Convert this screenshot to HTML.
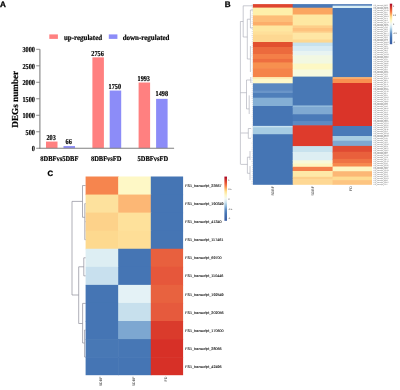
<!DOCTYPE html>
<html><head><meta charset="utf-8"><title>DEG figure</title>
<style>
html,body{margin:0;padding:0;background:#fff;width:400px;height:390px;overflow:hidden;}
svg{display:block;filter:blur(0.5px);text-rendering:geometricPrecision;}
</style></head>
<body>
<svg width="400" height="390" viewBox="0 0 400 390">
<rect x="0" y="0" width="400" height="390" fill="#fff"/>
<text transform="translate(-0.10,6.70)" font-family='"Liberation Sans", sans-serif' font-weight="bold" font-size="8.1" fill="#000" stroke="#000" stroke-width="0.3">A</text>
<rect x="49.3" y="34.4" width="8.6" height="4.5" fill="#FF8080"/>
<text transform="translate(63.90,39.60) scale(0.93,1)" font-family='"Liberation Serif", serif' font-weight="bold" font-size="7.5" fill="#000" stroke="#000" stroke-width="0.18">up-regulated</text>
<rect x="108.8" y="34.4" width="8.6" height="4.5" fill="#8C8CF8"/>
<text transform="translate(122.70,39.60) scale(0.93,1)" font-family='"Liberation Serif", serif' font-weight="bold" font-size="7.5" fill="#000" stroke="#000" stroke-width="0.18">down-regulated</text>
<line x1="39.9" y1="49.31" x2="39.9" y2="148.75" stroke="#808080" stroke-width="1.1"/>
<line x1="36.2" y1="148.25" x2="39.9" y2="148.25" stroke="#808080" stroke-width="0.9"/>
<text transform="translate(34.90,151.10) scale(0.82,1)" text-anchor="end" font-family='"Liberation Serif", serif' font-weight="bold" font-size="7.6" fill="#000" stroke="#000" stroke-width="0.18">0</text>
<line x1="36.2" y1="131.76" x2="39.9" y2="131.76" stroke="#808080" stroke-width="0.9"/>
<text transform="translate(34.90,134.61) scale(0.82,1)" text-anchor="end" font-family='"Liberation Serif", serif' font-weight="bold" font-size="7.6" fill="#000" stroke="#000" stroke-width="0.18">500</text>
<line x1="36.2" y1="115.27" x2="39.9" y2="115.27" stroke="#808080" stroke-width="0.9"/>
<text transform="translate(34.90,118.12) scale(0.82,1)" text-anchor="end" font-family='"Liberation Serif", serif' font-weight="bold" font-size="7.6" fill="#000" stroke="#000" stroke-width="0.18">1000</text>
<line x1="36.2" y1="98.78" x2="39.9" y2="98.78" stroke="#808080" stroke-width="0.9"/>
<text transform="translate(34.90,101.63) scale(0.82,1)" text-anchor="end" font-family='"Liberation Serif", serif' font-weight="bold" font-size="7.6" fill="#000" stroke="#000" stroke-width="0.18">1500</text>
<line x1="36.2" y1="82.29" x2="39.9" y2="82.29" stroke="#808080" stroke-width="0.9"/>
<text transform="translate(34.90,85.14) scale(0.82,1)" text-anchor="end" font-family='"Liberation Serif", serif' font-weight="bold" font-size="7.6" fill="#000" stroke="#000" stroke-width="0.18">2000</text>
<line x1="36.2" y1="65.80" x2="39.9" y2="65.80" stroke="#808080" stroke-width="0.9"/>
<text transform="translate(34.90,68.65) scale(0.82,1)" text-anchor="end" font-family='"Liberation Serif", serif' font-weight="bold" font-size="7.6" fill="#000" stroke="#000" stroke-width="0.18">2500</text>
<line x1="36.2" y1="49.31" x2="39.9" y2="49.31" stroke="#808080" stroke-width="0.9"/>
<text transform="translate(34.90,52.16) scale(0.82,1)" text-anchor="end" font-family='"Liberation Serif", serif' font-weight="bold" font-size="7.6" fill="#000" stroke="#000" stroke-width="0.18">3000</text>
<text transform="translate(17.90,99.30) rotate(-90)" text-anchor="middle" font-family='"Liberation Serif", serif' font-weight="bold" font-size="9.2" fill="#000" stroke="#000" stroke-width="0.18">DEGs number</text>
<rect x="46.0" y="141.56" width="11.5" height="6.69" fill="#FF8080"/>
<text transform="translate(51.15,139.96) scale(0.82,1)" text-anchor="middle" font-family='"Liberation Serif", serif' font-weight="bold" font-size="7.6" fill="#000" stroke="#000" stroke-width="0.18">203</text>
<rect x="63.5" y="146.07" width="11.5" height="2.18" fill="#8C8CF8"/>
<text transform="translate(68.65,143.67) scale(0.82,1)" text-anchor="middle" font-family='"Liberation Serif", serif' font-weight="bold" font-size="7.6" fill="#000" stroke="#000" stroke-width="0.18">66</text>
<rect x="92.4" y="57.36" width="11.5" height="90.89" fill="#FF8080"/>
<text transform="translate(97.55,55.56) scale(0.82,1)" text-anchor="middle" font-family='"Liberation Serif", serif' font-weight="bold" font-size="7.6" fill="#000" stroke="#000" stroke-width="0.18">2756</text>
<rect x="109.7" y="90.54" width="11.5" height="57.71" fill="#8C8CF8"/>
<text transform="translate(114.85,89.24) scale(0.82,1)" text-anchor="middle" font-family='"Liberation Serif", serif' font-weight="bold" font-size="7.6" fill="#000" stroke="#000" stroke-width="0.18">1750</text>
<rect x="138.6" y="82.52" width="11.5" height="65.73" fill="#FF8080"/>
<text transform="translate(143.75,81.22) scale(0.82,1)" text-anchor="middle" font-family='"Liberation Serif", serif' font-weight="bold" font-size="7.6" fill="#000" stroke="#000" stroke-width="0.18">1993</text>
<rect x="156.1" y="98.85" width="11.5" height="49.40" fill="#8C8CF8"/>
<text transform="translate(161.85,96.35) scale(0.82,1)" text-anchor="middle" font-family='"Liberation Serif", serif' font-weight="bold" font-size="7.6" fill="#000" stroke="#000" stroke-width="0.18">1498</text>
<line x1="39.35" y1="148.25" x2="174.1" y2="148.25" stroke="#808080" stroke-width="1.1"/>
<text transform="translate(59.30,160.50) scale(0.9,1)" text-anchor="middle" font-family='"Liberation Serif", serif' font-weight="bold" font-size="7.2" fill="#000" stroke="#000" stroke-width="0.18">8DBFvs5DBF</text>
<text transform="translate(106.20,160.50) scale(0.9,1)" text-anchor="middle" font-family='"Liberation Serif", serif' font-weight="bold" font-size="7.2" fill="#000" stroke="#000" stroke-width="0.18">8DBFvsFD</text>
<text transform="translate(152.80,160.50) scale(0.9,1)" text-anchor="middle" font-family='"Liberation Serif", serif' font-weight="bold" font-size="7.2" fill="#000" stroke="#000" stroke-width="0.18">5DBFvsFD</text>
<text transform="translate(224.80,6.70)" font-family='"Liberation Sans", sans-serif' font-weight="bold" font-size="8.1" fill="#000" stroke="#000" stroke-width="0.3">B</text>
<rect x="252.9" y="4.1" width="40.40" height="4.10" fill="#DF452F"/>
<rect x="252.9" y="7.6" width="40.40" height="8.40" fill="#FEF0AA"/>
<rect x="252.9" y="15.4" width="40.40" height="7.20" fill="#FDBE78"/>
<rect x="252.9" y="22.0" width="40.40" height="4.10" fill="#FCAE6A"/>
<rect x="252.9" y="25.5" width="40.40" height="6.30" fill="#FEE7A0"/>
<rect x="252.9" y="31.2" width="40.40" height="4.10" fill="#FEE09A"/>
<rect x="252.9" y="34.7" width="40.40" height="7.90" fill="#FDD892"/>
<rect x="252.9" y="42.0" width="40.40" height="5.60" fill="#E2502F"/>
<rect x="252.9" y="47.0" width="40.40" height="7.60" fill="#EC6A3D"/>
<rect x="252.9" y="54.0" width="40.40" height="5.50" fill="#F47F48"/>
<rect x="252.9" y="58.9" width="40.40" height="4.10" fill="#EE6E40"/>
<rect x="252.9" y="62.4" width="40.40" height="6.50" fill="#F7904F"/>
<rect x="252.9" y="68.3" width="40.40" height="9.40" fill="#F5844A"/>
<rect x="252.9" y="77.1" width="40.40" height="2.40" fill="#FEEBB0"/>
<rect x="252.9" y="78.9" width="40.40" height="5.00" fill="#FEF8C8"/>
<rect x="252.9" y="83.3" width="40.40" height="7.90" fill="#5A88C0"/>
<rect x="252.9" y="90.6" width="40.40" height="3.00" fill="#6A95C8"/>
<rect x="252.9" y="93.0" width="40.40" height="5.30" fill="#4F7FBA"/>
<rect x="252.9" y="97.7" width="40.40" height="8.90" fill="#84AFD5"/>
<rect x="252.9" y="106.0" width="40.40" height="20.50" fill="#4575B4"/>
<rect x="252.9" y="125.9" width="40.40" height="2.00" fill="#C8E2F0"/>
<rect x="252.9" y="127.3" width="40.40" height="7.50" fill="#A6CCE3"/>
<rect x="252.9" y="134.2" width="40.40" height="50.60" fill="#4575B4"/>
<rect x="292.7" y="4.1" width="40.50" height="4.20" fill="#4A78B6"/>
<rect x="292.7" y="7.7" width="40.50" height="7.40" fill="#FBA660"/>
<rect x="292.7" y="14.5" width="40.50" height="11.50" fill="#FEE8A2"/>
<rect x="292.7" y="25.4" width="40.50" height="3.20" fill="#FDCF8A"/>
<rect x="292.7" y="28.0" width="40.50" height="4.10" fill="#FDC27E"/>
<rect x="292.7" y="31.5" width="40.50" height="2.10" fill="#FDD592"/>
<rect x="292.7" y="33.0" width="40.50" height="7.10" fill="#FEE6A4"/>
<rect x="292.7" y="39.5" width="40.50" height="3.70" fill="#FDD892"/>
<rect x="292.7" y="42.6" width="40.50" height="4.00" fill="#C6E1EE"/>
<rect x="292.7" y="46.0" width="40.50" height="5.60" fill="#D8EBF3"/>
<rect x="292.7" y="51.0" width="40.50" height="4.90" fill="#E8F4F2"/>
<rect x="292.7" y="55.3" width="40.50" height="8.90" fill="#F2F8E2"/>
<rect x="292.7" y="63.6" width="40.50" height="6.50" fill="#FDF8C4"/>
<rect x="292.7" y="69.5" width="40.50" height="7.70" fill="#F6F9DF"/>
<rect x="292.7" y="76.6" width="40.50" height="29.40" fill="#4878B5"/>
<rect x="292.7" y="105.4" width="40.50" height="2.20" fill="#92BADB"/>
<rect x="292.7" y="107.0" width="40.50" height="7.80" fill="#7FA9D2"/>
<rect x="292.7" y="114.2" width="40.50" height="7.70" fill="#4A7AB8"/>
<rect x="292.7" y="121.3" width="40.50" height="4.60" fill="#5D8AC2"/>
<rect x="292.7" y="125.3" width="40.50" height="21.40" fill="#DE3B2C"/>
<rect x="292.7" y="146.1" width="40.50" height="6.50" fill="#C8E2EE"/>
<rect x="292.7" y="152.0" width="40.50" height="8.90" fill="#DDEEF3"/>
<rect x="292.7" y="160.3" width="40.50" height="3.80" fill="#F8F8D8"/>
<rect x="292.7" y="163.5" width="40.50" height="3.90" fill="#FEF5C0"/>
<rect x="292.7" y="166.8" width="40.50" height="4.80" fill="#F47F4A"/>
<rect x="292.7" y="171.0" width="40.50" height="6.40" fill="#FEE9A8"/>
<rect x="292.7" y="176.8" width="40.50" height="3.00" fill="#FDD08C"/>
<rect x="292.7" y="179.2" width="40.50" height="5.60" fill="#FED894"/>
<rect x="332.6" y="4.1" width="39.40" height="2.20" fill="#5580BB"/>
<rect x="332.6" y="5.7" width="39.40" height="2.90" fill="#D8EEF5"/>
<rect x="332.6" y="8.0" width="39.40" height="69.70" fill="#4575B4"/>
<rect x="332.6" y="77.1" width="39.40" height="2.40" fill="#F8B070"/>
<rect x="332.6" y="78.9" width="39.40" height="4.70" fill="#F99050"/>
<rect x="332.6" y="83.0" width="39.40" height="43.60" fill="#DA3429"/>
<rect x="332.6" y="126.0" width="39.40" height="10.60" fill="#4A7AB8"/>
<rect x="332.6" y="136.0" width="39.40" height="5.30" fill="#A8CDE3"/>
<rect x="332.6" y="140.7" width="39.40" height="5.80" fill="#7EA8D1"/>
<rect x="332.6" y="145.9" width="39.40" height="6.50" fill="#E04A32"/>
<rect x="332.6" y="151.8" width="39.40" height="7.70" fill="#E9603C"/>
<rect x="332.6" y="158.9" width="39.40" height="4.70" fill="#EF7344"/>
<rect x="332.6" y="163.0" width="39.40" height="4.10" fill="#F7894E"/>
<rect x="332.6" y="166.5" width="39.40" height="5.30" fill="#FEF6C2"/>
<rect x="332.6" y="171.2" width="39.40" height="6.00" fill="#FCB775"/>
<rect x="332.6" y="176.6" width="39.40" height="4.10" fill="#FEDB92"/>
<rect x="332.6" y="180.1" width="39.40" height="4.70" fill="#FDC581"/>
<line x1="243.2" y1="5.8" x2="252.9" y2="5.8" stroke="#a4a6b2" stroke-width="0.6"/>
<line x1="243.2" y1="5.8" x2="243.2" y2="37.0" stroke="#a4a6b2" stroke-width="0.6"/>
<line x1="243.2" y1="37.0" x2="247.3" y2="37.0" stroke="#a4a6b2" stroke-width="0.6"/>
<line x1="240.4" y1="21.5" x2="243.2" y2="21.5" stroke="#a4a6b2" stroke-width="0.6"/>
<line x1="247.3" y1="19.2" x2="247.3" y2="59.0" stroke="#a4a6b2" stroke-width="0.6"/>
<line x1="247.3" y1="19.2" x2="250.4" y2="19.2" stroke="#a4a6b2" stroke-width="0.6"/>
<line x1="250.4" y1="10.0" x2="250.4" y2="28.0" stroke="#a4a6b2" stroke-width="0.6"/>
<line x1="250.4" y1="46.0" x2="250.4" y2="72.0" stroke="#a4a6b2" stroke-width="0.6"/>
<line x1="247.3" y1="59.0" x2="250.4" y2="59.0" stroke="#a4a6b2" stroke-width="0.6"/>
<line x1="250.4" y1="10.0" x2="252.9" y2="10.0" stroke="#a4a6b2" stroke-width="0.6"/>
<line x1="250.4" y1="28.0" x2="252.9" y2="28.0" stroke="#a4a6b2" stroke-width="0.6"/>
<line x1="240.4" y1="21.5" x2="240.4" y2="164.4" stroke="#a4a6b2" stroke-width="0.6"/>
<line x1="240.4" y1="92.7" x2="246.5" y2="92.7" stroke="#a4a6b2" stroke-width="0.6"/>
<line x1="246.5" y1="80.0" x2="246.5" y2="108.9" stroke="#a4a6b2" stroke-width="0.6"/>
<line x1="249.2" y1="95.4" x2="249.2" y2="114.0" stroke="#a4a6b2" stroke-width="0.6"/>
<line x1="246.5" y1="108.9" x2="249.2" y2="108.9" stroke="#a4a6b2" stroke-width="0.6"/>
<line x1="240.8" y1="133.0" x2="248.3" y2="133.0" stroke="#a4a6b2" stroke-width="0.6"/>
<line x1="248.3" y1="128.5" x2="248.3" y2="138.3" stroke="#a4a6b2" stroke-width="0.6"/>
<line x1="240.8" y1="164.4" x2="247.4" y2="164.4" stroke="#a4a6b2" stroke-width="0.6"/>
<line x1="247.4" y1="157.2" x2="247.4" y2="173.3" stroke="#a4a6b2" stroke-width="0.6"/>
<line x1="250.0" y1="151.0" x2="250.0" y2="160.0" stroke="#a4a6b2" stroke-width="0.6"/>
<line x1="247.4" y1="157.2" x2="250.0" y2="157.2" stroke="#a4a6b2" stroke-width="0.6"/>
<line x1="250.0" y1="166.0" x2="250.0" y2="180.0" stroke="#a4a6b2" stroke-width="0.6"/>
<line x1="247.4" y1="173.3" x2="250.0" y2="173.3" stroke="#a4a6b2" stroke-width="0.6"/>
<line x1="246.5" y1="80.0" x2="250.8" y2="80.0" stroke="#a4a6b2" stroke-width="0.6"/>
<line x1="250.8" y1="77.0" x2="250.8" y2="83.0" stroke="#a4a6b2" stroke-width="0.6"/>
<line x1="248.3" y1="128.5" x2="251.0" y2="128.5" stroke="#a4a6b2" stroke-width="0.6"/>
<line x1="248.3" y1="138.3" x2="251.0" y2="138.3" stroke="#a4a6b2" stroke-width="0.6"/>
<line x1="251.49037170167352" y1="5.1" x2="252.9" y2="5.1" stroke="#b0b0bb" stroke-width="0.4"/>
<line x1="251.73538338023678" y1="7.13" x2="252.9" y2="7.13" stroke="#b0b0bb" stroke-width="0.4"/>
<line x1="251.59596413323848" y1="9.16" x2="252.9" y2="9.16" stroke="#b0b0bb" stroke-width="0.4"/>
<line x1="251.78313603087696" y1="11.19" x2="252.9" y2="11.19" stroke="#b0b0bb" stroke-width="0.4"/>
<line x1="251.80057624328646" y1="13.22" x2="252.9" y2="13.22" stroke="#b0b0bb" stroke-width="0.4"/>
<line x1="251.35242308739186" y1="15.25" x2="252.9" y2="15.25" stroke="#b0b0bb" stroke-width="0.4"/>
<line x1="251.3105343932439" y1="17.28" x2="252.9" y2="17.28" stroke="#b0b0bb" stroke-width="0.4"/>
<line x1="251.9699752656772" y1="19.31" x2="252.9" y2="19.31" stroke="#b0b0bb" stroke-width="0.4"/>
<line x1="251.50748321146241" y1="21.34" x2="252.9" y2="21.34" stroke="#b0b0bb" stroke-width="0.4"/>
<line x1="251.48746476883736" y1="23.37" x2="252.9" y2="23.37" stroke="#b0b0bb" stroke-width="0.4"/>
<line x1="252.09651586840837" y1="25.4" x2="252.9" y2="25.4" stroke="#b0b0bb" stroke-width="0.4"/>
<line x1="251.67621080601796" y1="27.43" x2="252.9" y2="27.43" stroke="#b0b0bb" stroke-width="0.4"/>
<line x1="251.96916916101952" y1="29.46" x2="252.9" y2="29.46" stroke="#b0b0bb" stroke-width="0.4"/>
<line x1="251.68108256695947" y1="31.49" x2="252.9" y2="31.49" stroke="#b0b0bb" stroke-width="0.4"/>
<line x1="251.81125451243534" y1="33.52" x2="252.9" y2="33.52" stroke="#b0b0bb" stroke-width="0.4"/>
<line x1="251.42049313921882" y1="35.55" x2="252.9" y2="35.55" stroke="#b0b0bb" stroke-width="0.4"/>
<line x1="251.80788852662818" y1="37.58" x2="252.9" y2="37.58" stroke="#b0b0bb" stroke-width="0.4"/>
<line x1="251.99443624571464" y1="39.61" x2="252.9" y2="39.61" stroke="#b0b0bb" stroke-width="0.4"/>
<line x1="251.71854496830665" y1="41.64" x2="252.9" y2="41.64" stroke="#b0b0bb" stroke-width="0.4"/>
<line x1="251.8930014849612" y1="43.67" x2="252.9" y2="43.67" stroke="#b0b0bb" stroke-width="0.4"/>
<line x1="251.83712918029568" y1="45.7" x2="252.9" y2="45.7" stroke="#b0b0bb" stroke-width="0.4"/>
<line x1="251.3512251505816" y1="47.73" x2="252.9" y2="47.73" stroke="#b0b0bb" stroke-width="0.4"/>
<line x1="251.90658419702947" y1="49.76" x2="252.9" y2="49.76" stroke="#b0b0bb" stroke-width="0.4"/>
<line x1="251.77287966634506" y1="51.79" x2="252.9" y2="51.79" stroke="#b0b0bb" stroke-width="0.4"/>
<line x1="251.54101412761258" y1="53.82" x2="252.9" y2="53.82" stroke="#b0b0bb" stroke-width="0.4"/>
<line x1="251.3248094011758" y1="55.85" x2="252.9" y2="55.85" stroke="#b0b0bb" stroke-width="0.4"/>
<line x1="251.99242178958318" y1="57.88" x2="252.9" y2="57.88" stroke="#b0b0bb" stroke-width="0.4"/>
<line x1="251.6781992709324" y1="59.91" x2="252.9" y2="59.91" stroke="#b0b0bb" stroke-width="0.4"/>
<line x1="251.87505913925264" y1="61.94" x2="252.9" y2="61.94" stroke="#b0b0bb" stroke-width="0.4"/>
<line x1="252.0030502402044" y1="63.97" x2="252.9" y2="63.97" stroke="#b0b0bb" stroke-width="0.4"/>
<line x1="251.87130358688898" y1="66.0" x2="252.9" y2="66.0" stroke="#b0b0bb" stroke-width="0.4"/>
<line x1="252.03687893406712" y1="68.03" x2="252.9" y2="68.03" stroke="#b0b0bb" stroke-width="0.4"/>
<line x1="251.6159707232006" y1="70.06" x2="252.9" y2="70.06" stroke="#b0b0bb" stroke-width="0.4"/>
<line x1="251.9407270167882" y1="72.09" x2="252.9" y2="72.09" stroke="#b0b0bb" stroke-width="0.4"/>
<line x1="251.65569684484063" y1="74.12" x2="252.9" y2="74.12" stroke="#b0b0bb" stroke-width="0.4"/>
<line x1="252.04846937736363" y1="76.15" x2="252.9" y2="76.15" stroke="#b0b0bb" stroke-width="0.4"/>
<line x1="252.00309332827044" y1="78.18" x2="252.9" y2="78.18" stroke="#b0b0bb" stroke-width="0.4"/>
<line x1="251.3779634477847" y1="80.21" x2="252.9" y2="80.21" stroke="#b0b0bb" stroke-width="0.4"/>
<line x1="251.40877508816055" y1="82.24" x2="252.9" y2="82.24" stroke="#b0b0bb" stroke-width="0.4"/>
<line x1="251.4735895529865" y1="84.27" x2="252.9" y2="84.27" stroke="#b0b0bb" stroke-width="0.4"/>
<line x1="252.07238411111857" y1="86.3" x2="252.9" y2="86.3" stroke="#b0b0bb" stroke-width="0.4"/>
<line x1="251.64892949330195" y1="88.33" x2="252.9" y2="88.33" stroke="#b0b0bb" stroke-width="0.4"/>
<line x1="251.80131863269347" y1="90.36" x2="252.9" y2="90.36" stroke="#b0b0bb" stroke-width="0.4"/>
<line x1="251.54082095874043" y1="92.39" x2="252.9" y2="92.39" stroke="#b0b0bb" stroke-width="0.4"/>
<line x1="251.70579438706326" y1="94.42" x2="252.9" y2="94.42" stroke="#b0b0bb" stroke-width="0.4"/>
<line x1="251.60869300707594" y1="96.45" x2="252.9" y2="96.45" stroke="#b0b0bb" stroke-width="0.4"/>
<line x1="251.58072839101615" y1="98.48" x2="252.9" y2="98.48" stroke="#b0b0bb" stroke-width="0.4"/>
<line x1="251.7680592859243" y1="100.51" x2="252.9" y2="100.51" stroke="#b0b0bb" stroke-width="0.4"/>
<line x1="251.76740143437618" y1="102.54" x2="252.9" y2="102.54" stroke="#b0b0bb" stroke-width="0.4"/>
<line x1="252.02336141667823" y1="104.57" x2="252.9" y2="104.57" stroke="#b0b0bb" stroke-width="0.4"/>
<line x1="251.84558570930798" y1="106.6" x2="252.9" y2="106.6" stroke="#b0b0bb" stroke-width="0.4"/>
<line x1="252.04315648096002" y1="108.63" x2="252.9" y2="108.63" stroke="#b0b0bb" stroke-width="0.4"/>
<line x1="251.98512045311742" y1="110.66" x2="252.9" y2="110.66" stroke="#b0b0bb" stroke-width="0.4"/>
<line x1="252.09279171589506" y1="112.69" x2="252.9" y2="112.69" stroke="#b0b0bb" stroke-width="0.4"/>
<line x1="251.83701883373" y1="114.72" x2="252.9" y2="114.72" stroke="#b0b0bb" stroke-width="0.4"/>
<line x1="251.43047969757686" y1="116.75" x2="252.9" y2="116.75" stroke="#b0b0bb" stroke-width="0.4"/>
<line x1="251.98851002649303" y1="118.78" x2="252.9" y2="118.78" stroke="#b0b0bb" stroke-width="0.4"/>
<line x1="252.07170635784726" y1="120.81" x2="252.9" y2="120.81" stroke="#b0b0bb" stroke-width="0.4"/>
<line x1="252.0237567876098" y1="122.84" x2="252.9" y2="122.84" stroke="#b0b0bb" stroke-width="0.4"/>
<line x1="251.75528600277946" y1="124.87" x2="252.9" y2="124.87" stroke="#b0b0bb" stroke-width="0.4"/>
<line x1="251.87105361613936" y1="126.9" x2="252.9" y2="126.9" stroke="#b0b0bb" stroke-width="0.4"/>
<line x1="251.4688999869405" y1="128.93" x2="252.9" y2="128.93" stroke="#b0b0bb" stroke-width="0.4"/>
<line x1="251.9652863442187" y1="130.96" x2="252.9" y2="130.96" stroke="#b0b0bb" stroke-width="0.4"/>
<line x1="251.75882588188105" y1="132.99" x2="252.9" y2="132.99" stroke="#b0b0bb" stroke-width="0.4"/>
<line x1="251.52796596958896" y1="135.02" x2="252.9" y2="135.02" stroke="#b0b0bb" stroke-width="0.4"/>
<line x1="251.3507684617162" y1="137.05" x2="252.9" y2="137.05" stroke="#b0b0bb" stroke-width="0.4"/>
<line x1="251.98315399073815" y1="139.08" x2="252.9" y2="139.08" stroke="#b0b0bb" stroke-width="0.4"/>
<line x1="252.09184481193728" y1="141.11" x2="252.9" y2="141.11" stroke="#b0b0bb" stroke-width="0.4"/>
<line x1="251.3708144744878" y1="143.14" x2="252.9" y2="143.14" stroke="#b0b0bb" stroke-width="0.4"/>
<line x1="251.94047625700603" y1="145.17" x2="252.9" y2="145.17" stroke="#b0b0bb" stroke-width="0.4"/>
<line x1="251.62836946187673" y1="147.2" x2="252.9" y2="147.2" stroke="#b0b0bb" stroke-width="0.4"/>
<line x1="251.42061229956226" y1="149.23" x2="252.9" y2="149.23" stroke="#b0b0bb" stroke-width="0.4"/>
<line x1="251.53511299745526" y1="151.26" x2="252.9" y2="151.26" stroke="#b0b0bb" stroke-width="0.4"/>
<line x1="251.91503350982188" y1="153.29" x2="252.9" y2="153.29" stroke="#b0b0bb" stroke-width="0.4"/>
<line x1="251.99821361970257" y1="155.32" x2="252.9" y2="155.32" stroke="#b0b0bb" stroke-width="0.4"/>
<line x1="251.33535204890364" y1="157.35" x2="252.9" y2="157.35" stroke="#b0b0bb" stroke-width="0.4"/>
<line x1="251.79162602282545" y1="159.38" x2="252.9" y2="159.38" stroke="#b0b0bb" stroke-width="0.4"/>
<line x1="251.33595219479685" y1="161.41" x2="252.9" y2="161.41" stroke="#b0b0bb" stroke-width="0.4"/>
<line x1="251.8747523819588" y1="163.44" x2="252.9" y2="163.44" stroke="#b0b0bb" stroke-width="0.4"/>
<line x1="251.56476331681523" y1="165.47" x2="252.9" y2="165.47" stroke="#b0b0bb" stroke-width="0.4"/>
<line x1="252.0047242457979" y1="167.5" x2="252.9" y2="167.5" stroke="#b0b0bb" stroke-width="0.4"/>
<line x1="252.0845086054747" y1="169.53" x2="252.9" y2="169.53" stroke="#b0b0bb" stroke-width="0.4"/>
<line x1="251.70433629891843" y1="171.56" x2="252.9" y2="171.56" stroke="#b0b0bb" stroke-width="0.4"/>
<line x1="252.09880715630064" y1="173.59" x2="252.9" y2="173.59" stroke="#b0b0bb" stroke-width="0.4"/>
<line x1="251.54773604278108" y1="175.62" x2="252.9" y2="175.62" stroke="#b0b0bb" stroke-width="0.4"/>
<line x1="251.36157656376434" y1="177.65" x2="252.9" y2="177.65" stroke="#b0b0bb" stroke-width="0.4"/>
<line x1="251.7798102470373" y1="179.68" x2="252.9" y2="179.68" stroke="#b0b0bb" stroke-width="0.4"/>
<line x1="251.32510220974027" y1="181.71" x2="252.9" y2="181.71" stroke="#b0b0bb" stroke-width="0.4"/>
<line x1="251.45790788514276" y1="183.74" x2="252.9" y2="183.74" stroke="#b0b0bb" stroke-width="0.4"/>
<text transform="translate(373.6,5.72) scale(0.76,1)" font-family='"Liberation Sans", sans-serif' font-size="1.9" fill="#6a6a6a">FS1_transcript_85890</text>
<text transform="translate(373.6,7.60) scale(0.76,1)" font-family='"Liberation Sans", sans-serif' font-size="1.9" fill="#6a6a6a">FS1_transcript_40544</text>
<text transform="translate(373.6,9.49) scale(0.76,1)" font-family='"Liberation Sans", sans-serif' font-size="1.9" fill="#6a6a6a">FS1_transcript_104500</text>
<text transform="translate(373.6,11.37) scale(0.76,1)" font-family='"Liberation Sans", sans-serif' font-size="1.9" fill="#6a6a6a">FS1_transcript_171638</text>
<text transform="translate(373.6,13.25) scale(0.76,1)" font-family='"Liberation Sans", sans-serif' font-size="1.9" fill="#6a6a6a">FS1_transcript_13657</text>
<text transform="translate(373.6,15.13) scale(0.76,1)" font-family='"Liberation Sans", sans-serif' font-size="1.9" fill="#6a6a6a">FS1_transcript_19988</text>
<text transform="translate(373.6,17.01) scale(0.76,1)" font-family='"Liberation Sans", sans-serif' font-size="1.9" fill="#6a6a6a">FS1_transcript_141478</text>
<text transform="translate(373.6,18.90) scale(0.76,1)" font-family='"Liberation Sans", sans-serif' font-size="1.9" fill="#6a6a6a">FS1_transcript_25675</text>
<text transform="translate(373.6,20.78) scale(0.76,1)" font-family='"Liberation Sans", sans-serif' font-size="1.9" fill="#6a6a6a">FS1_transcript_96863</text>
<text transform="translate(373.6,22.66) scale(0.76,1)" font-family='"Liberation Sans", sans-serif' font-size="1.9" fill="#6a6a6a">FS1_transcript_153774</text>
<text transform="translate(373.6,24.54) scale(0.76,1)" font-family='"Liberation Sans", sans-serif' font-size="1.9" fill="#6a6a6a">FS1_transcript_16204</text>
<text transform="translate(373.6,26.43) scale(0.76,1)" font-family='"Liberation Sans", sans-serif' font-size="1.9" fill="#6a6a6a">FS1_transcript_134021</text>
<text transform="translate(373.6,28.31) scale(0.76,1)" font-family='"Liberation Sans", sans-serif' font-size="1.9" fill="#6a6a6a">FS1_transcript_57281</text>
<text transform="translate(373.6,30.19) scale(0.76,1)" font-family='"Liberation Sans", sans-serif' font-size="1.9" fill="#6a6a6a">FS1_transcript_10829</text>
<text transform="translate(373.6,32.07) scale(0.76,1)" font-family='"Liberation Sans", sans-serif' font-size="1.9" fill="#6a6a6a">FS1_transcript_23530</text>
<text transform="translate(373.6,33.96) scale(0.76,1)" font-family='"Liberation Sans", sans-serif' font-size="1.9" fill="#6a6a6a">FS1_transcript_114677</text>
<text transform="translate(373.6,35.84) scale(0.76,1)" font-family='"Liberation Sans", sans-serif' font-size="1.9" fill="#6a6a6a">FS1_transcript_110621</text>
<text transform="translate(373.6,37.72) scale(0.76,1)" font-family='"Liberation Sans", sans-serif' font-size="1.9" fill="#6a6a6a">FS1_transcript_19312</text>
<text transform="translate(373.6,39.60) scale(0.76,1)" font-family='"Liberation Sans", sans-serif' font-size="1.9" fill="#6a6a6a">FS1_transcript_64088</text>
<text transform="translate(373.6,41.48) scale(0.76,1)" font-family='"Liberation Sans", sans-serif' font-size="1.9" fill="#6a6a6a">FS1_transcript_24779</text>
<text transform="translate(373.6,43.37) scale(0.76,1)" font-family='"Liberation Sans", sans-serif' font-size="1.9" fill="#6a6a6a">FS1_transcript_145453</text>
<text transform="translate(373.6,45.25) scale(0.76,1)" font-family='"Liberation Sans", sans-serif' font-size="1.9" fill="#6a6a6a">FS1_transcript_112285</text>
<text transform="translate(373.6,47.13) scale(0.76,1)" font-family='"Liberation Sans", sans-serif' font-size="1.9" fill="#6a6a6a">FS1_transcript_16495</text>
<text transform="translate(373.6,49.01) scale(0.76,1)" font-family='"Liberation Sans", sans-serif' font-size="1.9" fill="#6a6a6a">FS1_transcript_149230</text>
<text transform="translate(373.6,50.90) scale(0.76,1)" font-family='"Liberation Sans", sans-serif' font-size="1.9" fill="#6a6a6a">FS1_transcript_33453</text>
<text transform="translate(373.6,52.78) scale(0.76,1)" font-family='"Liberation Sans", sans-serif' font-size="1.9" fill="#6a6a6a">FS1_transcript_59520</text>
<text transform="translate(373.6,54.66) scale(0.76,1)" font-family='"Liberation Sans", sans-serif' font-size="1.9" fill="#6a6a6a">FS1_transcript_166314</text>
<text transform="translate(373.6,56.54) scale(0.76,1)" font-family='"Liberation Sans", sans-serif' font-size="1.9" fill="#6a6a6a">FS1_transcript_165477</text>
<text transform="translate(373.6,58.43) scale(0.76,1)" font-family='"Liberation Sans", sans-serif' font-size="1.9" fill="#6a6a6a">FS1_transcript_153829</text>
<text transform="translate(373.6,60.31) scale(0.76,1)" font-family='"Liberation Sans", sans-serif' font-size="1.9" fill="#6a6a6a">FS1_transcript_17216</text>
<text transform="translate(373.6,62.19) scale(0.76,1)" font-family='"Liberation Sans", sans-serif' font-size="1.9" fill="#6a6a6a">FS1_transcript_152284</text>
<text transform="translate(373.6,64.07) scale(0.76,1)" font-family='"Liberation Sans", sans-serif' font-size="1.9" fill="#6a6a6a">FS1_transcript_154496</text>
<text transform="translate(373.6,65.95) scale(0.76,1)" font-family='"Liberation Sans", sans-serif' font-size="1.9" fill="#6a6a6a">FS1_transcript_104987</text>
<text transform="translate(373.6,67.84) scale(0.76,1)" font-family='"Liberation Sans", sans-serif' font-size="1.9" fill="#6a6a6a">FS1_transcript_13999</text>
<text transform="translate(373.6,69.72) scale(0.76,1)" font-family='"Liberation Sans", sans-serif' font-size="1.9" fill="#6a6a6a">FS1_transcript_58955</text>
<text transform="translate(373.6,71.60) scale(0.76,1)" font-family='"Liberation Sans", sans-serif' font-size="1.9" fill="#6a6a6a">FS1_transcript_13211</text>
<text transform="translate(373.6,73.48) scale(0.76,1)" font-family='"Liberation Sans", sans-serif' font-size="1.9" fill="#6a6a6a">FS1_transcript_146926</text>
<text transform="translate(373.6,75.37) scale(0.76,1)" font-family='"Liberation Sans", sans-serif' font-size="1.9" fill="#6a6a6a">FS1_transcript_35910</text>
<text transform="translate(373.6,77.25) scale(0.76,1)" font-family='"Liberation Sans", sans-serif' font-size="1.9" fill="#6a6a6a">FS1_transcript_76919</text>
<text transform="translate(373.6,79.13) scale(0.76,1)" font-family='"Liberation Sans", sans-serif' font-size="1.9" fill="#6a6a6a">FS1_transcript_110874</text>
<text transform="translate(373.6,81.01) scale(0.76,1)" font-family='"Liberation Sans", sans-serif' font-size="1.9" fill="#6a6a6a">FS1_transcript_38815</text>
<text transform="translate(373.6,82.90) scale(0.76,1)" font-family='"Liberation Sans", sans-serif' font-size="1.9" fill="#6a6a6a">FS1_transcript_142737</text>
<text transform="translate(373.6,84.78) scale(0.76,1)" font-family='"Liberation Sans", sans-serif' font-size="1.9" fill="#6a6a6a">FS1_transcript_31878</text>
<text transform="translate(373.6,86.66) scale(0.76,1)" font-family='"Liberation Sans", sans-serif' font-size="1.9" fill="#6a6a6a">FS1_transcript_150661</text>
<text transform="translate(373.6,88.54) scale(0.76,1)" font-family='"Liberation Sans", sans-serif' font-size="1.9" fill="#6a6a6a">FS1_transcript_81866</text>
<text transform="translate(373.6,90.42) scale(0.76,1)" font-family='"Liberation Sans", sans-serif' font-size="1.9" fill="#6a6a6a">FS1_transcript_147868</text>
<text transform="translate(373.6,92.31) scale(0.76,1)" font-family='"Liberation Sans", sans-serif' font-size="1.9" fill="#6a6a6a">FS1_transcript_179782</text>
<text transform="translate(373.6,94.19) scale(0.76,1)" font-family='"Liberation Sans", sans-serif' font-size="1.9" fill="#6a6a6a">FS1_transcript_48376</text>
<text transform="translate(373.6,96.07) scale(0.76,1)" font-family='"Liberation Sans", sans-serif' font-size="1.9" fill="#6a6a6a">FS1_transcript_28015</text>
<text transform="translate(373.6,97.95) scale(0.76,1)" font-family='"Liberation Sans", sans-serif' font-size="1.9" fill="#6a6a6a">FS1_transcript_153462</text>
<text transform="translate(373.6,99.84) scale(0.76,1)" font-family='"Liberation Sans", sans-serif' font-size="1.9" fill="#6a6a6a">FS1_transcript_150737</text>
<text transform="translate(373.6,101.72) scale(0.76,1)" font-family='"Liberation Sans", sans-serif' font-size="1.9" fill="#6a6a6a">FS1_transcript_168487</text>
<text transform="translate(373.6,103.60) scale(0.76,1)" font-family='"Liberation Sans", sans-serif' font-size="1.9" fill="#6a6a6a">FS1_transcript_50249</text>
<text transform="translate(373.6,105.48) scale(0.76,1)" font-family='"Liberation Sans", sans-serif' font-size="1.9" fill="#6a6a6a">FS1_transcript_98621</text>
<text transform="translate(373.6,107.36) scale(0.76,1)" font-family='"Liberation Sans", sans-serif' font-size="1.9" fill="#6a6a6a">FS1_transcript_26540</text>
<text transform="translate(373.6,109.25) scale(0.76,1)" font-family='"Liberation Sans", sans-serif' font-size="1.9" fill="#6a6a6a">FS1_transcript_144587</text>
<text transform="translate(373.6,111.13) scale(0.76,1)" font-family='"Liberation Sans", sans-serif' font-size="1.9" fill="#6a6a6a">FS1_transcript_187675</text>
<text transform="translate(373.6,113.01) scale(0.76,1)" font-family='"Liberation Sans", sans-serif' font-size="1.9" fill="#6a6a6a">FS1_transcript_17459</text>
<text transform="translate(373.6,114.89) scale(0.76,1)" font-family='"Liberation Sans", sans-serif' font-size="1.9" fill="#6a6a6a">FS1_transcript_148945</text>
<text transform="translate(373.6,116.78) scale(0.76,1)" font-family='"Liberation Sans", sans-serif' font-size="1.9" fill="#6a6a6a">FS1_transcript_16624</text>
<text transform="translate(373.6,118.66) scale(0.76,1)" font-family='"Liberation Sans", sans-serif' font-size="1.9" fill="#6a6a6a">FS1_transcript_163269</text>
<text transform="translate(373.6,120.54) scale(0.76,1)" font-family='"Liberation Sans", sans-serif' font-size="1.9" fill="#6a6a6a">FS1_transcript_54990</text>
<text transform="translate(373.6,122.42) scale(0.76,1)" font-family='"Liberation Sans", sans-serif' font-size="1.9" fill="#6a6a6a">FS1_transcript_131132</text>
<text transform="translate(373.6,124.31) scale(0.76,1)" font-family='"Liberation Sans", sans-serif' font-size="1.9" fill="#6a6a6a">FS1_transcript_179362</text>
<text transform="translate(373.6,126.19) scale(0.76,1)" font-family='"Liberation Sans", sans-serif' font-size="1.9" fill="#6a6a6a">FS1_transcript_140387</text>
<text transform="translate(373.6,128.07) scale(0.76,1)" font-family='"Liberation Sans", sans-serif' font-size="1.9" fill="#6a6a6a">FS1_transcript_113090</text>
<text transform="translate(373.6,129.95) scale(0.76,1)" font-family='"Liberation Sans", sans-serif' font-size="1.9" fill="#6a6a6a">FS1_transcript_204745</text>
<text transform="translate(373.6,131.83) scale(0.76,1)" font-family='"Liberation Sans", sans-serif' font-size="1.9" fill="#6a6a6a">FS1_transcript_83351</text>
<text transform="translate(373.6,133.72) scale(0.76,1)" font-family='"Liberation Sans", sans-serif' font-size="1.9" fill="#6a6a6a">FS1_transcript_123054</text>
<text transform="translate(373.6,135.60) scale(0.76,1)" font-family='"Liberation Sans", sans-serif' font-size="1.9" fill="#6a6a6a">FS1_transcript_154501</text>
<text transform="translate(373.6,137.48) scale(0.76,1)" font-family='"Liberation Sans", sans-serif' font-size="1.9" fill="#6a6a6a">FS1_transcript_119799</text>
<text transform="translate(373.6,139.36) scale(0.76,1)" font-family='"Liberation Sans", sans-serif' font-size="1.9" fill="#6a6a6a">FS1_transcript_95786</text>
<text transform="translate(373.6,141.25) scale(0.76,1)" font-family='"Liberation Sans", sans-serif' font-size="1.9" fill="#6a6a6a">FS1_transcript_79582</text>
<text transform="translate(373.6,143.13) scale(0.76,1)" font-family='"Liberation Sans", sans-serif' font-size="1.9" fill="#6a6a6a">FS1_transcript_66123</text>
<text transform="translate(373.6,145.01) scale(0.76,1)" font-family='"Liberation Sans", sans-serif' font-size="1.9" fill="#6a6a6a">FS1_transcript_209241</text>
<text transform="translate(373.6,146.89) scale(0.76,1)" font-family='"Liberation Sans", sans-serif' font-size="1.9" fill="#6a6a6a">FS1_transcript_48124</text>
<text transform="translate(373.6,148.78) scale(0.76,1)" font-family='"Liberation Sans", sans-serif' font-size="1.9" fill="#6a6a6a">FS1_transcript_184237</text>
<text transform="translate(373.6,150.66) scale(0.76,1)" font-family='"Liberation Sans", sans-serif' font-size="1.9" fill="#6a6a6a">FS1_transcript_205427</text>
<text transform="translate(373.6,152.54) scale(0.76,1)" font-family='"Liberation Sans", sans-serif' font-size="1.9" fill="#6a6a6a">FS1_transcript_64988</text>
<text transform="translate(373.6,154.42) scale(0.76,1)" font-family='"Liberation Sans", sans-serif' font-size="1.9" fill="#6a6a6a">FS1_transcript_22457</text>
<text transform="translate(373.6,156.30) scale(0.76,1)" font-family='"Liberation Sans", sans-serif' font-size="1.9" fill="#6a6a6a">FS1_transcript_151581</text>
<text transform="translate(373.6,158.19) scale(0.76,1)" font-family='"Liberation Sans", sans-serif' font-size="1.9" fill="#6a6a6a">FS1_transcript_79708</text>
<text transform="translate(373.6,160.07) scale(0.76,1)" font-family='"Liberation Sans", sans-serif' font-size="1.9" fill="#6a6a6a">FS1_transcript_138677</text>
<text transform="translate(373.6,161.95) scale(0.76,1)" font-family='"Liberation Sans", sans-serif' font-size="1.9" fill="#6a6a6a">FS1_transcript_130791</text>
<text transform="translate(373.6,163.83) scale(0.76,1)" font-family='"Liberation Sans", sans-serif' font-size="1.9" fill="#6a6a6a">FS1_transcript_91040</text>
<text transform="translate(373.6,165.72) scale(0.76,1)" font-family='"Liberation Sans", sans-serif' font-size="1.9" fill="#6a6a6a">FS1_transcript_192219</text>
<text transform="translate(373.6,167.60) scale(0.76,1)" font-family='"Liberation Sans", sans-serif' font-size="1.9" fill="#6a6a6a">FS1_transcript_118659</text>
<text transform="translate(373.6,169.48) scale(0.76,1)" font-family='"Liberation Sans", sans-serif' font-size="1.9" fill="#6a6a6a">FS1_transcript_76481</text>
<text transform="translate(373.6,171.36) scale(0.76,1)" font-family='"Liberation Sans", sans-serif' font-size="1.9" fill="#6a6a6a">FS1_transcript_160634</text>
<text transform="translate(373.6,173.25) scale(0.76,1)" font-family='"Liberation Sans", sans-serif' font-size="1.9" fill="#6a6a6a">FS1_transcript_20189</text>
<text transform="translate(373.6,175.13) scale(0.76,1)" font-family='"Liberation Sans", sans-serif' font-size="1.9" fill="#6a6a6a">FS1_transcript_31950</text>
<text transform="translate(373.6,177.01) scale(0.76,1)" font-family='"Liberation Sans", sans-serif' font-size="1.9" fill="#6a6a6a">FS1_transcript_135200</text>
<text transform="translate(373.6,178.89) scale(0.76,1)" font-family='"Liberation Sans", sans-serif' font-size="1.9" fill="#6a6a6a">FS1_transcript_110608</text>
<text transform="translate(373.6,180.77) scale(0.76,1)" font-family='"Liberation Sans", sans-serif' font-size="1.9" fill="#6a6a6a">FS1_transcript_44243</text>
<text transform="translate(373.6,182.66) scale(0.76,1)" font-family='"Liberation Sans", sans-serif' font-size="1.9" fill="#6a6a6a">FS1_transcript_199479</text>
<text transform="translate(373.6,184.54) scale(0.76,1)" font-family='"Liberation Sans", sans-serif' font-size="1.9" fill="#6a6a6a">FS1_transcript_90667</text>
<text transform="translate(273.60,186.0) rotate(-90)" text-anchor="end" font-family='"Liberation Sans", sans-serif' font-size="3.7" fill="#444">8DBF</text>
<text transform="translate(313.60,186.0) rotate(-90)" text-anchor="end" font-family='"Liberation Sans", sans-serif' font-size="3.7" fill="#444">5DBF</text>
<text transform="translate(352.30,186.0) rotate(-90)" text-anchor="end" font-family='"Liberation Sans", sans-serif' font-size="3.7" fill="#444">FD</text>
<defs>
<linearGradient id="rdylbu" x1="0" y1="0" x2="0" y2="1">
<stop offset="0" stop-color="#A50026"/>
<stop offset="0.05" stop-color="#C0272B"/>
<stop offset="0.12" stop-color="#E0482F"/>
<stop offset="0.20" stop-color="#F57B48"/>
<stop offset="0.27" stop-color="#FDB365"/>
<stop offset="0.33" stop-color="#FEE08F"/>
<stop offset="0.42" stop-color="#FDF7C6"/>
<stop offset="0.50" stop-color="#F2F8F4"/>
<stop offset="0.58" stop-color="#CFE5F0"/>
<stop offset="0.66" stop-color="#96BEDC"/>
<stop offset="0.74" stop-color="#6290C6"/>
<stop offset="0.84" stop-color="#4575B4"/>
<stop offset="1" stop-color="#3A5CA2"/>
</linearGradient>
</defs>
<rect x="389.8" y="3.7" width="2.4" height="40.5" fill="url(#rdylbu)"/>
<text x="393.0" y="6.79" font-family='"Liberation Sans", sans-serif' font-size="2.2" fill="#333">1</text>
<text x="393.0" y="16.19" font-family='"Liberation Sans", sans-serif' font-size="2.2" fill="#333">0.5</text>
<text x="393.0" y="24.79" font-family='"Liberation Sans", sans-serif' font-size="2.2" fill="#333">0</text>
<text x="393.0" y="33.79" font-family='"Liberation Sans", sans-serif' font-size="2.2" fill="#333">-0.5</text>
<text x="393.0" y="42.59" font-family='"Liberation Sans", sans-serif' font-size="2.2" fill="#333">-1</text>
<text transform="translate(47.40,176.20)" font-family='"Liberation Sans", sans-serif' font-weight="bold" font-size="7.8" fill="#000" stroke="#000" stroke-width="0.3">C</text>
<rect x="85.6" y="176.50" width="33.20" height="18.66" fill="#F6854E"/>
<rect x="118.2" y="176.50" width="33.20" height="18.66" fill="#FEF8C6"/>
<rect x="150.8" y="176.50" width="32.30" height="18.66" fill="#4575B4"/>
<text x="185.3" y="187.13" font-family='"Liberation Sans", sans-serif' font-size="3.7" fill="#111" stroke="#111" stroke-width="0.1">FS1_transcript_23667</text>
<rect x="85.6" y="194.56" width="33.20" height="18.66" fill="#FDE19D"/>
<rect x="118.2" y="194.56" width="33.20" height="18.66" fill="#FCB775"/>
<rect x="150.8" y="194.56" width="32.30" height="18.66" fill="#4575B4"/>
<text x="185.3" y="205.20" font-family='"Liberation Sans", sans-serif' font-size="3.7" fill="#111" stroke="#111" stroke-width="0.1">FS1_transcript_190349</text>
<rect x="85.6" y="212.63" width="33.20" height="18.66" fill="#FDD28A"/>
<rect x="118.2" y="212.63" width="33.20" height="18.66" fill="#FEE19B"/>
<rect x="150.8" y="212.63" width="32.30" height="18.66" fill="#4575B4"/>
<text x="185.3" y="223.26" font-family='"Liberation Sans", sans-serif' font-size="3.7" fill="#111" stroke="#111" stroke-width="0.1">FS1_transcript_41340</text>
<rect x="85.6" y="230.69" width="33.20" height="18.66" fill="#FDD98F"/>
<rect x="118.2" y="230.69" width="33.20" height="18.66" fill="#FEDE97"/>
<rect x="150.8" y="230.69" width="32.30" height="18.66" fill="#4575B4"/>
<text x="185.3" y="241.32" font-family='"Liberation Sans", sans-serif' font-size="3.7" fill="#111" stroke="#111" stroke-width="0.1">FS1_transcript_117461</text>
<rect x="85.6" y="248.75" width="33.20" height="18.66" fill="#DDEEF3"/>
<rect x="118.2" y="248.75" width="33.20" height="18.66" fill="#4575B4"/>
<rect x="150.8" y="248.75" width="32.30" height="18.66" fill="#E8603E"/>
<text x="185.3" y="259.39" font-family='"Liberation Sans", sans-serif' font-size="3.7" fill="#111" stroke="#111" stroke-width="0.1">FS1_transcript_69700</text>
<rect x="85.6" y="266.82" width="33.20" height="18.66" fill="#C8E0EE"/>
<rect x="118.2" y="266.82" width="33.20" height="18.66" fill="#4575B4"/>
<rect x="150.8" y="266.82" width="32.30" height="18.66" fill="#E6573B"/>
<text x="185.3" y="277.45" font-family='"Liberation Sans", sans-serif' font-size="3.7" fill="#111" stroke="#111" stroke-width="0.1">FS1_transcript_110446</text>
<rect x="85.6" y="284.88" width="33.20" height="18.66" fill="#4575B4"/>
<rect x="118.2" y="284.88" width="33.20" height="18.66" fill="#E4F2F6"/>
<rect x="150.8" y="284.88" width="32.30" height="18.66" fill="#E8623F"/>
<text x="185.3" y="295.51" font-family='"Liberation Sans", sans-serif' font-size="3.7" fill="#111" stroke="#111" stroke-width="0.1">FS1_transcript_192549</text>
<rect x="85.6" y="302.95" width="33.20" height="18.66" fill="#4575B4"/>
<rect x="118.2" y="302.95" width="33.20" height="18.66" fill="#C7E0ED"/>
<rect x="150.8" y="302.95" width="32.30" height="18.66" fill="#E65A3D"/>
<text x="185.3" y="313.58" font-family='"Liberation Sans", sans-serif' font-size="3.7" fill="#111" stroke="#111" stroke-width="0.1">FS1_transcript_202056</text>
<rect x="85.6" y="321.01" width="33.20" height="18.66" fill="#4575B4"/>
<rect x="118.2" y="321.01" width="33.20" height="18.66" fill="#7DA7D1"/>
<rect x="150.8" y="321.01" width="32.30" height="18.66" fill="#DA3B2C"/>
<text x="185.3" y="331.64" font-family='"Liberation Sans", sans-serif' font-size="3.7" fill="#111" stroke="#111" stroke-width="0.1">FS1_transcript_170600</text>
<rect x="85.6" y="339.07" width="33.20" height="18.66" fill="#4878B5"/>
<rect x="118.2" y="339.07" width="33.20" height="18.66" fill="#4777B5"/>
<rect x="150.8" y="339.07" width="32.30" height="18.66" fill="#D73027"/>
<text x="185.3" y="349.70" font-family='"Liberation Sans", sans-serif' font-size="3.7" fill="#111" stroke="#111" stroke-width="0.1">FS1_transcript_28066</text>
<rect x="85.6" y="357.14" width="33.20" height="18.06" fill="#4575B4"/>
<rect x="118.2" y="357.14" width="33.20" height="18.06" fill="#4575B4"/>
<rect x="150.8" y="357.14" width="32.30" height="18.06" fill="#D73027"/>
<text x="185.3" y="367.77" font-family='"Liberation Sans", sans-serif' font-size="3.7" fill="#111" stroke="#111" stroke-width="0.1">FS1_transcript_42496</text>
<line x1="82.5" y1="185.53181818181818" x2="85.6" y2="185.53181818181818" stroke="#8d8d99" stroke-width="0.7"/>
<line x1="82.5" y1="185.53181818181818" x2="82.5" y2="217.3" stroke="#8d8d99" stroke-width="0.7"/>
<line x1="82.5" y1="217.3" x2="84.8" y2="217.3" stroke="#8d8d99" stroke-width="0.7"/>
<line x1="84.8" y1="203.59545454545454" x2="84.8" y2="239.72272727272727" stroke="#8d8d99" stroke-width="0.7"/>
<line x1="84.8" y1="203.59545454545454" x2="85.6" y2="203.59545454545454" stroke="#8d8d99" stroke-width="0.7"/>
<line x1="84.8" y1="239.72272727272727" x2="85.6" y2="239.72272727272727" stroke="#8d8d99" stroke-width="0.7"/>
<line x1="85.2" y1="221.6590909090909" x2="85.6" y2="221.6590909090909" stroke="#8d8d99" stroke-width="0.7"/>
<line x1="72.0" y1="201.4" x2="82.5" y2="201.4" stroke="#8d8d99" stroke-width="0.7"/>
<line x1="72.0" y1="201.4" x2="72.0" y2="295.0" stroke="#8d8d99" stroke-width="0.7"/>
<line x1="72.0" y1="295.0" x2="78.7" y2="295.0" stroke="#8d8d99" stroke-width="0.7"/>
<line x1="78.7" y1="266.8" x2="78.7" y2="323.5" stroke="#8d8d99" stroke-width="0.7"/>
<line x1="78.7" y1="266.8" x2="83.8" y2="266.8" stroke="#8d8d99" stroke-width="0.7"/>
<line x1="83.8" y1="257.7863636363636" x2="83.8" y2="275.85" stroke="#8d8d99" stroke-width="0.7"/>
<line x1="83.8" y1="257.7863636363636" x2="85.6" y2="257.7863636363636" stroke="#8d8d99" stroke-width="0.7"/>
<line x1="83.8" y1="275.85" x2="85.6" y2="275.85" stroke="#8d8d99" stroke-width="0.7"/>
<line x1="78.7" y1="323.5" x2="82.6" y2="323.5" stroke="#8d8d99" stroke-width="0.7"/>
<line x1="82.6" y1="303.4" x2="82.6" y2="343.0" stroke="#8d8d99" stroke-width="0.7"/>
<line x1="82.6" y1="303.4" x2="85.6" y2="303.4" stroke="#8d8d99" stroke-width="0.7"/>
<line x1="82.6" y1="343.0" x2="84.6" y2="343.0" stroke="#8d8d99" stroke-width="0.7"/>
<line x1="84.6" y1="330.0" x2="84.6" y2="357.0" stroke="#8d8d99" stroke-width="0.7"/>
<line x1="84.6" y1="330.0" x2="85.6" y2="330.0" stroke="#8d8d99" stroke-width="0.7"/>
<line x1="84.6" y1="357.0" x2="85.6" y2="357.0" stroke="#8d8d99" stroke-width="0.7"/>
<text transform="translate(102.40,376.6) rotate(-90)" text-anchor="end" font-family='"Liberation Sans", sans-serif' font-size="3.7" fill="#444">8DBF</text>
<text transform="translate(135.00,376.6) rotate(-90)" text-anchor="end" font-family='"Liberation Sans", sans-serif' font-size="3.7" fill="#444">5DBF</text>
<text transform="translate(167.40,376.6) rotate(-90)" text-anchor="end" font-family='"Liberation Sans", sans-serif' font-size="3.7" fill="#444">FD</text>
<rect x="224.4" y="176.6" width="2.6" height="44.20000000000002" fill="url(#rdylbu)"/>
<text x="228.3" y="180.53" font-family='"Liberation Sans", sans-serif' font-size="2.3" fill="#333">1</text>
<text x="228.3" y="190.23" font-family='"Liberation Sans", sans-serif' font-size="2.3" fill="#333">0.5</text>
<text x="228.3" y="200.03" font-family='"Liberation Sans", sans-serif' font-size="2.3" fill="#333">0</text>
<text x="228.3" y="209.83" font-family='"Liberation Sans", sans-serif' font-size="2.3" fill="#333">-0.5</text>
<text x="228.3" y="218.73" font-family='"Liberation Sans", sans-serif' font-size="2.3" fill="#333">-1</text>
</svg>
</body></html>
